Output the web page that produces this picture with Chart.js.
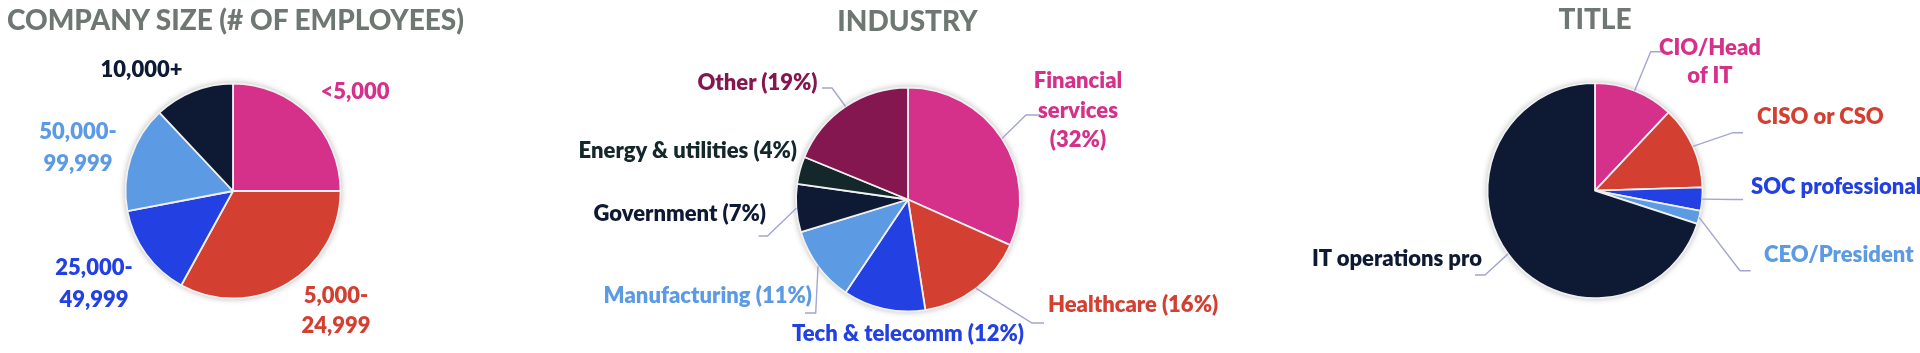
<!DOCTYPE html>
<html><head><meta charset="utf-8">
<script src="https://cdn.jsdelivr.net/npm/chart.js@4.4.1/dist/chart.umd.min.js"></script>
<style>
html,body{margin:0;padding:0;background:#fff;}
#wrap{position:relative;width:1920px;height:353px;overflow:hidden;background:#fff;font-family:Lato,'Open Sans',sans-serif;font-weight:800;}
canvas{position:absolute;left:0;top:0;}
.t{position:absolute;white-space:pre;line-height:1;}
</style></head><body>
<div id="wrap"></div>
<script>
// ---------- DATA ----------
const sizeCategories = ['<5,000', '5,000-24,999', '25,000-49,999', '50,000-99,999', '10,000+'];
const sizeValues = [25, 33, 14, 16, 12];
const sizeLabels = ['<5,000', '5,000-\n24,999', '25,000-\n49,999', '50,000-\n99,999', '10,000+'];

const industryCategories = ['Financial services', 'Healthcare', 'Tech & telecomm', 'Manufacturing', 'Government', 'Energy & utilities', 'Other'];
const industryValues = [32, 16, 12, 11, 7, 4, 19];
const industryLabels = ['Financial\nservices\n(32%)', 'Healthcare (16%)', 'Tech & telecomm (12%)', 'Manufacturing (11%)', 'Government (7%)', 'Energy & utilities (4%)', 'Other (19%)'];

const titleCategories = ['CIO/Head of IT', 'CISO or CSO', 'SOC professional', 'CEO/President', 'IT operations pro'];
const titleValues = [12, 12.5, 3.5, 2, 70];
const titleLabels = ['CIO/Head\nof IT', 'CISO or CSO', 'SOC professional', 'CEO/President', 'IT operations pro'];

const chartTitles = ['COMPANY SIZE (# OF EMPLOYEES)', 'INDUSTRY', 'TITLE'];

// ---------- STYLES ----------
const PINK = '#D6318A', RED = '#D33F30', BLUE = '#2341E2', LBLUE = '#5C9BE3', NAVY = '#0E1934', MAROON = '#84174F', TEAL = '#14272B';
const sizeColors = [PINK, RED, BLUE, LBLUE, NAVY];
const industryColors = [PINK, RED, BLUE, LBLUE, NAVY, TEAL, MAROON];
const titleColors = [PINK, RED, BLUE, LBLUE, NAVY];

// ---------- LAYOUT ----------
const W = 1920, H = 353;
const sizeLayout = {cx: 233, cy: 191, r: 107.5};
const industryLayout = {cx: 908, cy: 199.5, r: 112};
const titleLayout = {cx: 1595, cy: 190.7, r: 107.5};

// label placement: [x, y, anchor, lineHeight]
const sizeLabelPos = [[355, 91, 'c', 30], [336, 310, 'c', 30], [94, 283, 'c', 32], [78, 147, 'c', 32], [141.5, 69, 'c', 30]];
const industryLabelPos = [[1078, 109, 'c', 29.5], [1048, 304, 'l', 30], [908, 333, 'c', 30], [812, 295, 'r', 30], [766, 213, 'r', 30], [797, 150, 'r', 30], [817.5, 82, 'r', 30]];
const titleLabelPos = [[1710, 60.3, 'c', 27.3], [1757, 116, 'l', 30], [1751, 186, 'l', 30], [1764, 254, 'l', 30], [1482, 257.7, 'r', 30]];

// leader lines: [elbowX, elbowY, endX, endY]
const industryLeaders = [[1026, 115, 1040, 115], [1032, 323, 1044, 323], null, [815.7, 313, 805, 313], [767.5, 236, 758.6, 236], null, [832, 88, 822, 88]];
const titleLeaders = [[1650.7, 51.7, 1662.7, 51.7], [1733, 132.7, 1743, 132.7], [1733, 199.5, 1743, 199.5], [1740, 270.7, 1750.7, 270.7], [1485, 275, 1475, 275]];

const titlePos = [[7, 18.5, 'l'], [907.5, 20.3, 'c'], [1595, 17.5, 'c']];

// ---------- DRAW ----------
const wrap = document.getElementById('wrap');

const leaderPlugin = {
  id: 'leaders',
  beforeDatasetsDraw(chart) {
    const a = chart.getDatasetMeta(0).data[0];
    const ctx = chart.ctx;
    ctx.save();
    ctx.shadowColor = 'rgba(0,0,0,0.30)';
    ctx.shadowBlur = 6;
    ctx.fillStyle = '#fff';
    ctx.beginPath();
    ctx.arc(a.x, a.y, a.outerRadius + 0.5, 0, Math.PI * 2);
    ctx.fill();
    ctx.restore();
  },
  afterDatasetsDraw(chart, args, opts) {
    const leaders = opts.list || [];
    const ctx = chart.ctx;
    ctx.save();
    ctx.strokeStyle = '#A3A5D3';
    ctx.lineWidth = 1.4;
    chart.getDatasetMeta(0).data.forEach((a, i) => {
      const L = leaders[i];
      if (!L) return;
      const m = (a.startAngle + a.endAngle) / 2;
      const x0 = a.x + Math.cos(m) * a.outerRadius;
      const y0 = a.y + Math.sin(m) * a.outerRadius;
      ctx.beginPath();
      ctx.moveTo(x0, y0);
      ctx.lineTo(L[0], L[1]);
      ctx.lineTo(L[2], L[3]);
      ctx.stroke();
    });
    ctx.restore();
  }
};

function makePie(cats, vals, colors, lay, leaders) {
  const c = document.createElement('canvas');
  c.width = W; c.height = H;
  c.style.width = W + 'px'; c.style.height = H + 'px';
  wrap.appendChild(c);
  const h = lay.r + 8;
  new Chart(c, {
    type: 'pie',
    data: {labels: cats, datasets: [{data: vals, backgroundColor: colors, borderColor: '#F0F0F0', borderWidth: 1.8, radius: lay.r}]},
    options: {
      responsive: false, animation: false, events: [],
      layout: {padding: {left: lay.cx - h, right: W - lay.cx - h, top: lay.cy - h, bottom: H - lay.cy - h}},
      plugins: {legend: {display: false}, tooltip: {enabled: false}, title: {display: false}, leaders: {list: leaders}}
    },
    plugins: [leaderPlugin]
  });
}

function addText(txt, x, y, color, anchor, size, lh, weight) {
  const d = document.createElement('div');
  d.className = 't';
  d.textContent = txt;
  d.style.left = x + 'px';
  d.style.top = y + 'px';
  d.style.color = color;
  d.style.fontSize = size + 'px';
  d.style.lineHeight = (lh || size) + 'px';
  if (weight) d.style.fontWeight = weight;
  d.style.textAlign = 'center';
  const tx = anchor === 'l' ? '0' : anchor === 'r' ? '-100%' : '-50%';
  d.style.transform = 'translate(' + tx + ',-50%)';
  wrap.appendChild(d);
}

makePie(sizeCategories, sizeValues, sizeColors, sizeLayout, null);
makePie(industryCategories, industryValues, industryColors, industryLayout, industryLeaders);
makePie(titleCategories, titleValues, titleColors, titleLayout, titleLeaders);

const LBL = 22;
sizeLabels.forEach((t, i) => { const p = sizeLabelPos[i]; addText(t, p[0], p[1], sizeColors[i], p[2], LBL, p[3]); });
industryLabels.forEach((t, i) => { const p = industryLabelPos[i]; addText(t, p[0], p[1], industryColors[i], p[2], LBL, p[3]); });
titleLabels.forEach((t, i) => { const p = titleLabelPos[i]; addText(t, p[0], p[1], titleColors[i], p[2], LBL, p[3]); });
chartTitles.forEach((t, i) => { const p = titlePos[i]; addText(t, p[0], p[1], '#6E7771', p[2], 28, 28, 900); });
</script>
</body></html>
